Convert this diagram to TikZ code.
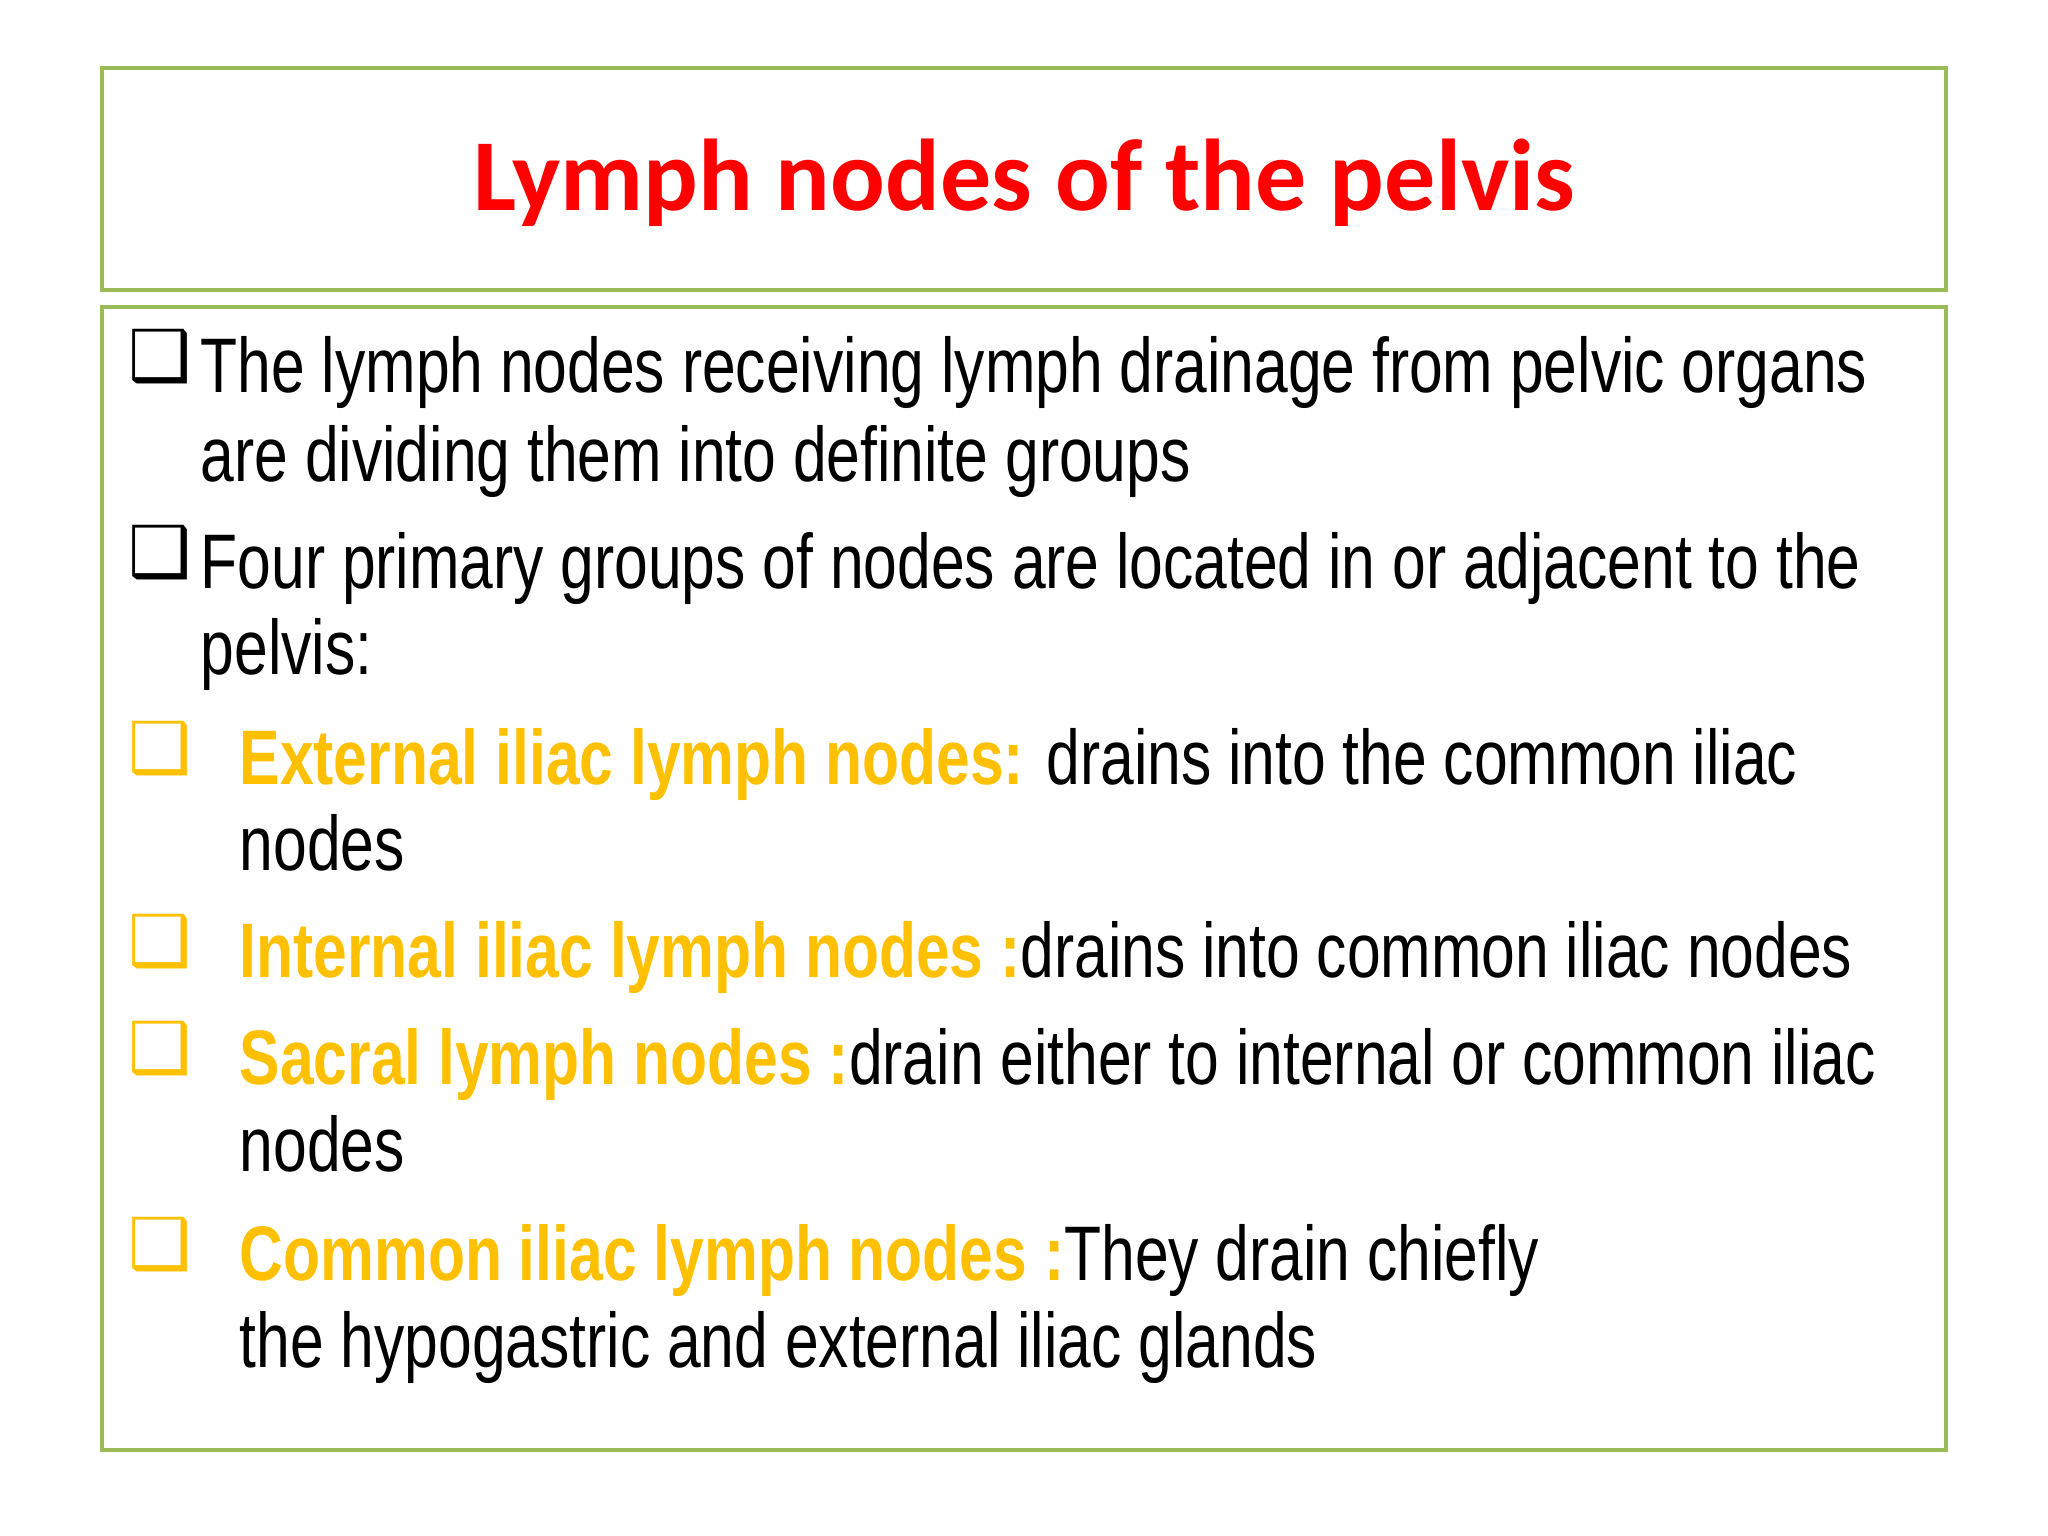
\documentclass[tikz,border=0pt]{standalone}
\usepackage{fontspec}
\setmainfont[FakeStretch=0.783]{Liberation Sans}
\newfontfamily\titlefont{Carlito}
\newfontfamily\symfont{DejaVu Sans}
\definecolor{gborder}{HTML}{9BBB59}
\definecolor{gold}{HTML}{FFC000}
\definecolor{tred}{HTML}{FF0000}
\begin{document}
\begin{tikzpicture}[x=0.01cm,y=-0.01cm,
  box/.style={draw=gborder,line width=0.04cm},
  txt/.style={anchor=base west,inner sep=0pt,font=\fontsize{22}{26}\selectfont},
  bul/.style={anchor=base west,inner sep=0pt,font=\symfont\bfseries\fontsize{20}{24}\selectfont}]
\useasboundingbox (0,0) rectangle (2048,1536);
\fill[white] (0,0) rectangle (2048,1536);
\draw[box] (102,68) rectangle (1946,290);
\draw[box] (102,307) rectangle (1946,1450);
\node[inner sep=0pt,text=tred,font=\titlefont\bfseries\fontsize{29}{35}\selectfont] (title) at (1024,183) {Lymph nodes of the pelvis};
\node[bul] (b1) at (128,380) {❑};
\node[txt] (l1) at (200,392) {The lymph nodes receiving lymph drainage from pelvic organs};
\node[txt] (l2) at (200,481) {are dividing them into definite groups};
\node[bul] (b2) at (128,576) {❑};
\node[txt] (l3) at (200,588) {Four primary groups of nodes are located in or adjacent to the};
\node[txt] (l4) at (200,674) {pelvis:};
\node[bul,text=gold] (b3) at (128,772) {❑};
\node[txt] (l5) at (239,784) {\textcolor{gold}{\bfseries External iliac lymph nodes:} drains into the common iliac};
\node[txt] (l6) at (239,870) {nodes};
\node[bul,text=gold] (b4) at (128,965) {❑};
\node[txt] (l7) at (239,977) {\textcolor{gold}{\bfseries Internal iliac lymph nodes :}drains into common iliac nodes};
\node[bul,text=gold] (b5) at (128,1072) {❑};
\node[txt] (l8) at (239,1084) {\textcolor{gold}{\bfseries Sacral lymph nodes :}drain either to internal or common iliac};
\node[txt] (l9) at (239,1171) {nodes};
\node[bul,text=gold] (b6) at (128,1268) {❑};
\node[txt] (l10) at (239,1280) {\textcolor{gold}{\bfseries Common iliac lymph nodes :}They drain chiefly};
\node[txt] (l11) at (239,1367) {the hypogastric and external iliac glands};
\end{tikzpicture}
\end{document}
